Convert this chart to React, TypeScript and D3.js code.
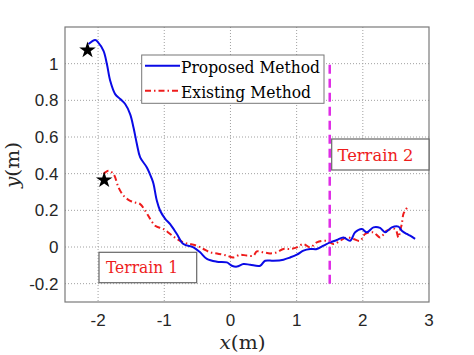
import React from "react";
import * as d3 from "d3";

const xTicks = [-2, -1, 0, 1, 2, 3];
const yTicks = [-0.2, 0, 0.2, 0.4, 0.6, 0.8, 1];
const yTickLabels = ["-0.2", "0", "0.2", "0.4", "0.6", "0.8", "1"];

const proposedX = [-2.145, -2.044, -2.0, -1.918, -1.867, -1.817, -1.742, -1.665, -1.591, -1.516, -1.465, -1.414, -1.364, -1.263, -1.187, -1.163, -1.112, -1.062, -0.986, -0.911, -0.81, -0.71, -0.559, -0.458, -0.356, -0.205, -0.054, 0.021, 0.097, 0.196, 0.298, 0.449, 0.524, 0.65, 0.801, 0.902, 1.003, 1.103, 1.204, 1.305, 1.405, 1.506, 1.607, 1.707, 1.808, 1.884, 1.985, 2.06, 2.16, 2.261, 2.337, 2.438, 2.538, 2.589, 2.665, 2.715, 2.79];
const proposedY = [1.107, 1.129, 1.116, 1.07, 0.998, 0.907, 0.834, 0.807, 0.78, 0.725, 0.652, 0.562, 0.489, 0.434, 0.371, 0.345, 0.252, 0.198, 0.154, 0.125, 0.071, 0.016, -0.002, -0.029, -0.065, -0.08, -0.084, -0.102, -0.107, -0.093, -0.097, -0.102, -0.075, -0.075, -0.069, -0.057, -0.042, -0.02, -0.011, -0.011, 0.007, 0.025, 0.038, 0.052, 0.034, 0.08, 0.098, 0.08, 0.107, 0.104, 0.08, 0.107, 0.111, 0.089, 0.071, 0.062, 0.044];

const existingX = [-1.918, -1.843, -1.767, -1.692, -1.616, -1.515, -1.44, -1.364, -1.289, -1.213, -1.137, -1.062, -1.012, -0.911, -0.81, -0.71, -0.609, -0.508, -0.408, -0.307, -0.205, -0.054, 0.045, 0.147, 0.248, 0.347, 0.399, 0.498, 0.6, 0.701, 0.801, 0.902, 1.003, 1.103, 1.204, 1.305, 1.456, 1.556, 1.657, 1.758, 1.858, 1.959, 2.035, 2.16, 2.261, 2.363, 2.488, 2.538, 2.563, 2.589, 2.613, 2.639, 2.689];
const existingY = [0.398, 0.416, 0.398, 0.325, 0.28, 0.252, 0.243, 0.234, 0.198, 0.153, 0.116, 0.104, 0.098, 0.071, 0.044, 0.025, 0.016, 0.007, -0.011, -0.029, -0.035, -0.047, -0.057, -0.042, -0.047, -0.047, -0.024, -0.029, -0.035, -0.029, -0.011, -0.011, -0.002, 0.016, -0.002, 0.025, 0.034, 0.016, 0.034, 0.052, 0.044, 0.034, 0.071, 0.08, 0.052, 0.089, 0.098, 0.052, 0.089, 0.125, 0.18, 0.198, 0.225];

const starX = [-2.16, -1.908];
const starY = [1.074, 0.365];

const boundaryX = 1.5;
const boundaryY = [-0.2, 1.0];

const seriesNames = ["Proposed Method", "Existing Method"];
const terrainLabels = ["Terrain 1", "Terrain 2"];

export default function App() {
  const W = 474, H = 355;
  const left = 65, right = 429, top = 27, bottom = 302;
  const x = d3.scaleLinear().domain([-2.5, 3]).range([left, right]);
  const y = d3.scaleLinear().domain([-0.3, 1.2]).range([bottom, top]);
  const mk = (xs: number[], ys: number[]) =>
    d3.line<number>()
      .x((_, i) => x(xs[i]))
      .y((_, i) => y(ys[i]))
      .curve(d3.curveCatmullRom.alpha(0.5))(xs) || "";
  const star = d3.symbol().type(d3.symbolStar).size(85)() || "";
  const serif = "'DejaVu Serif', serif";
  const sans = "'Liberation Sans', Arial, sans-serif";
  const blue = "#0a0ae6";
  const red = "#ee1c1c";
  const magenta = "#df2ce6";
  return (
    <svg width={W} height={H} style={{ position: "absolute", left: 0, top: 0, background: "#fff" }}>
      <rect x={0} y={0} width={W} height={H} fill="#fff" />
      <rect x={left} y={top} width={right - left} height={bottom - top} fill="#fff" />
      <g stroke="#a0a0a0" strokeWidth={1} strokeDasharray="1,2">
        {xTicks.slice(0, -1).map((t) => (
          <line key={"gx" + t} x1={x(t)} x2={x(t)} y1={top} y2={bottom} />
        ))}
        {yTicks.map((t) => (
          <line key={"gy" + t} x1={left} x2={right} y1={y(t)} y2={y(t)} />
        ))}
      </g>
      <path d={mk(existingX, existingY)} fill="none" stroke={red} strokeWidth={2} strokeDasharray="6,3,1.5,3" />
      <path d={mk(proposedX, proposedY)} fill="none" stroke={blue} strokeWidth={2} />
      <line x1={x(boundaryX)} x2={x(boundaryX)} y1={y(boundaryY[0])} y2={y(boundaryY[1])} stroke={magenta} strokeWidth={2.5} strokeDasharray="9,5" />
      {starX.map((sx, i) => (
        <path key={"s" + i} d={star} transform={`translate(${x(sx)},${y(starY[i])})`} fill="#000" />
      ))}
      <rect x={left} y={top} width={right - left} height={bottom - top} fill="none" stroke="#7a7a7a" strokeWidth={1.2} />
      <g fontFamily={sans} fontSize={17} fill="#262626">
        {xTicks.map((t) => (
          <text key={"tx" + t} x={x(t)} y={326} textAnchor="middle">{t}</text>
        ))}
        {yTicks.map((t, i) => (
          <text key={"ty" + t} x={58.5} y={y(t)} dy="0.36em" textAnchor="end">{yTickLabels[i]}</text>
        ))}
      </g>
      <text x={219.5} y={349} textLength={46} lengthAdjust="spacingAndGlyphs" fontFamily={serif} fontSize={19} fill="#262626">
        <tspan fontStyle="italic">x</tspan>(m)
      </text>
      <text transform="translate(19,188) rotate(-90)" textLength={46} lengthAdjust="spacingAndGlyphs" fontFamily={serif} fontSize={19} fill="#262626">
        <tspan fontStyle="italic">y</tspan>(m)
      </text>
      <rect x={141.7} y={55} width={182.3} height={48.3} fill="#fff" stroke="#777" strokeWidth={1} />
      <line x1={145} x2={180} y1={65.7} y2={65.7} stroke={blue} strokeWidth={2} />
      <line x1={145} x2={180} y1={90.7} y2={90.7} stroke={red} strokeWidth={2} strokeDasharray="6,3,1.5,3" />
      <text x={181} y={73} textLength={139} lengthAdjust="spacingAndGlyphs" fontFamily={serif} fontSize={17.5} fill="#000">{seriesNames[0]}</text>
      <text x={181} y={97.5} textLength={130} lengthAdjust="spacingAndGlyphs" fontFamily={serif} fontSize={17.5} fill="#000">{seriesNames[1]}</text>
      <rect x={99} y={252.3} width={97.7} height={30.4} fill="#fff" stroke="#666" strokeWidth={1.2} />
      <text x={106} y={272.5} textLength={72} lengthAdjust="spacingAndGlyphs" fontFamily={serif} fontSize={17.5} fill={red}>{terrainLabels[0]}</text>
      <rect x={331.7} y={139} width={97.3} height={31} fill="#fff" stroke="#666" strokeWidth={1.2} />
      <text x={337.5} y={161} textLength={76} lengthAdjust="spacingAndGlyphs" fontFamily={serif} fontSize={17.5} fill={red}>{terrainLabels[1]}</text>
    </svg>
  );
}
